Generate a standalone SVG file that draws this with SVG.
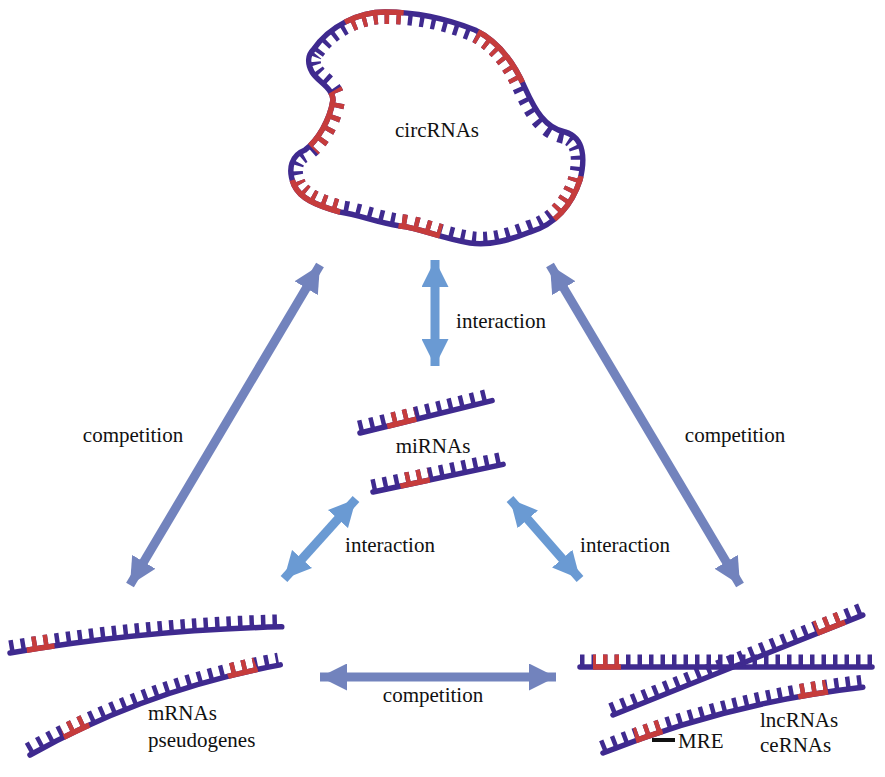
<svg xmlns="http://www.w3.org/2000/svg" width="885" height="777" viewBox="0 0 885 777">
<style>
.bb{stroke:#3f2a8f;stroke-width:5.5;stroke-linecap:round;fill:none}
.tk{stroke:#3f2a8f;stroke-width:13;stroke-dasharray:4.5 7;fill:none}
.r{stroke:#c63c3c}
.t{font-family:"Liberation Serif","Times New Roman","DejaVu Serif","Noto Serif",serif;font-size:21px;fill:#111}
.ao{stroke:#7283bd;stroke-width:9;fill:none}
.ai{stroke:#6a9ad3;stroke-width:9;fill:none}
</style>
<defs>
<marker id="mo" viewBox="0 0 10 10" refX="10" refY="5" markerWidth="3" markerHeight="3" orient="auto-start-reverse"><path d="M0,0L10,5L0,10z" fill="#7283bd"/></marker>
<marker id="mi" viewBox="0 0 10 10" refX="10" refY="5" markerWidth="3" markerHeight="3" orient="auto-start-reverse"><path d="M0,0L10,5L0,10z" fill="#6a9ad3"/></marker>
<path id="cp" d="M313,50 C330,25 360,12 385,12 C420,12 450,20 475,30 C500,42 515,65 525,88 C535,110 545,128 565,132 C585,138 585,160 580,180 C572,205 555,225 530,232 C510,240 490,246 470,243 C440,238 420,228 400,226 C375,222 360,215 340,212 C315,205 300,198 294,185 C287,168 292,155 305,150 C318,140 330,120 333,100 C333,88 318,82 312,72 C307,63 308,55 313,50 Z"/>
<clipPath id="cin"><use href="#cp"/></clipPath>
<mask id="mred" maskUnits="userSpaceOnUse" x="0" y="0" width="885" height="300"><path d="M313,50 C330,25 360,12 385,12 C420,12 450,20 475,30 C500,42 515,65 525,88 C535,110 545,128 565,132 C585,138 585,160 580,180 C572,205 555,225 530,232 C510,240 490,246 470,243 C440,238 420,228 400,226 C375,222 360,215 340,212 C315,205 300,198 294,185 C287,168 292,155 305,150 C318,140 330,120 333,100 C333,88 318,82 312,72 C307,63 308,55 313,50 Z" pathLength="100" fill="none" stroke="#fff" stroke-width="40" stroke-dasharray="0 5 7 9 8 14 6 14 5 7 7 5 7 6 5"/></mask>
<clipPath id="c1"><rect x="28" y="-30" width="30" height="40"/></clipPath>
<clipPath id="c2"><rect x="17" y="-30" width="28" height="40"/></clipPath>
<clipPath id="c3"><rect x="38" y="-30" width="28" height="40"/></clipPath>
<clipPath id="c4"><rect x="213" y="-40" width="30" height="50"/></clipPath>
<clipPath id="c5"><rect x="13" y="-30" width="28" height="40"/></clipPath>
<clipPath id="c6"><rect x="220" y="-30" width="30" height="40"/></clipPath>
<clipPath id="c7"><rect x="35" y="-30" width="28" height="40"/></clipPath>
<clipPath id="c8"><rect x="203" y="-40" width="30" height="50"/></clipPath>
</defs>
<g class="t">
<g id="circRNA">
<g clip-path="url(#cin)"><use href="#cp" class="tk" style="stroke-width:24;stroke-dasharray:4.5 7.5"/></g>
<use href="#cp" class="bb"/>
<g mask="url(#mred)"><g clip-path="url(#cin)"><use href="#cp" class="tk r" style="stroke-width:24;stroke-dasharray:4.5 7.5"/></g><use href="#cp" class="bb r"/></g>
<text x="437" y="137" text-anchor="middle">circRNAs</text>
</g>
<g id="miRNAs">
<g transform="translate(360,433) rotate(-13.8)"><path class="bb" d="M0,0H136"/><path class="tk" d="M0,-6H136"/><g clip-path="url(#c1)"><path class="bb r" d="M0,0H136"/><path class="tk r" d="M0,-6H136"/></g></g>
<g transform="translate(373,492) rotate(-12)"><path class="bb" d="M0,0H133"/><path class="tk" d="M0,-6H133"/><g clip-path="url(#c1)"><path class="bb r" d="M0,0H133"/><path class="tk r" d="M0,-6H133"/></g></g>
<text x="433" y="453" text-anchor="middle">miRNAs</text>
</g>
<g id="mRNAs">
<g transform="translate(10,653) rotate(-5.5)"><path class="bb" d="M0,0Q136,-10 273,0"/><path class="tk" d="M0,-6Q136,-16 273,-6"/><g clip-path="url(#c2)"><path class="bb r" d="M0,0Q136,-10 273,0"/><path class="tk r" d="M0,-6Q136,-16 273,-6"/></g></g>
<g transform="translate(30,755) rotate(-19.8)"><path class="bb" d="M0,0Q133,-22 266,0"/><path class="tk" d="M0,-6Q133,-28 266,-6"/><g clip-path="url(#c3)"><path class="bb r" d="M0,0Q133,-22 266,0"/><path class="tk r" d="M0,-6Q133,-28 266,-6"/></g><g clip-path="url(#c4)"><path class="bb r" d="M0,0Q133,-22 266,0"/><path class="tk r" d="M0,-6Q133,-28 266,-6"/></g></g>
<text x="148" y="720">mRNAs</text>
<text x="148" y="747">pseudogenes</text>
</g>
<g id="lncRNAs">
<g transform="translate(580,667)"><path class="bb" d="M0,0H292"/><path class="tk" d="M0,-6H292"/><g clip-path="url(#c5)"><path class="bb r" d="M0,0H292"/><path class="tk r" d="M0,-6H292"/></g></g>
<g transform="translate(613,715) rotate(-21.8)"><path class="bb" d="M0,0H269"/><path class="tk" d="M0,-6H269"/><g clip-path="url(#c6)"><path class="bb r" d="M0,0H269"/><path class="tk r" d="M0,-6H269"/></g></g>
<g transform="translate(603,753) rotate(-14.2)"><path class="bb" d="M0,0Q134,-18 268,0"/><path class="tk" d="M0,-6Q134,-24 268,-6"/><g clip-path="url(#c7)"><path class="bb r" d="M0,0Q134,-18 268,0"/><path class="tk r" d="M0,-6Q134,-24 268,-6"/></g><g clip-path="url(#c8)"><path class="bb r" d="M0,0Q134,-18 268,0"/><path class="tk r" d="M0,-6Q134,-24 268,-6"/></g></g>
<line x1="652" y1="740" x2="675" y2="740" stroke="#111" stroke-width="4"/>
<text x="678" y="748">MRE</text>
<text x="760" y="727">lncRNAs</text>
<text x="760" y="752">ceRNAs</text>
</g>
<g id="connectors">
<line class="ao" x1="130" y1="585" x2="320" y2="265" marker-start="url(#mo)" marker-end="url(#mo)"/>
<line class="ao" x1="550" y1="265" x2="740" y2="585" marker-start="url(#mo)" marker-end="url(#mo)"/>
<line class="ao" x1="320" y1="677" x2="556" y2="677" marker-start="url(#mo)" marker-end="url(#mo)"/>
<line class="ai" x1="435" y1="260" x2="435" y2="366" marker-start="url(#mi)" marker-end="url(#mi)"/>
<line class="ai" x1="356" y1="499" x2="284" y2="579" marker-start="url(#mi)" marker-end="url(#mi)"/>
<line class="ai" x1="510" y1="499" x2="580" y2="579" marker-start="url(#mi)" marker-end="url(#mi)"/>
<text x="501" y="328" text-anchor="middle">interaction</text>
<text x="133" y="442" text-anchor="middle">competition</text>
<text x="735" y="442" text-anchor="middle">competition</text>
<text x="390" y="552" text-anchor="middle">interaction</text>
<text x="625" y="552" text-anchor="middle">interaction</text>
<text x="433" y="702" text-anchor="middle">competition</text>
</g>
</g>
</svg>
